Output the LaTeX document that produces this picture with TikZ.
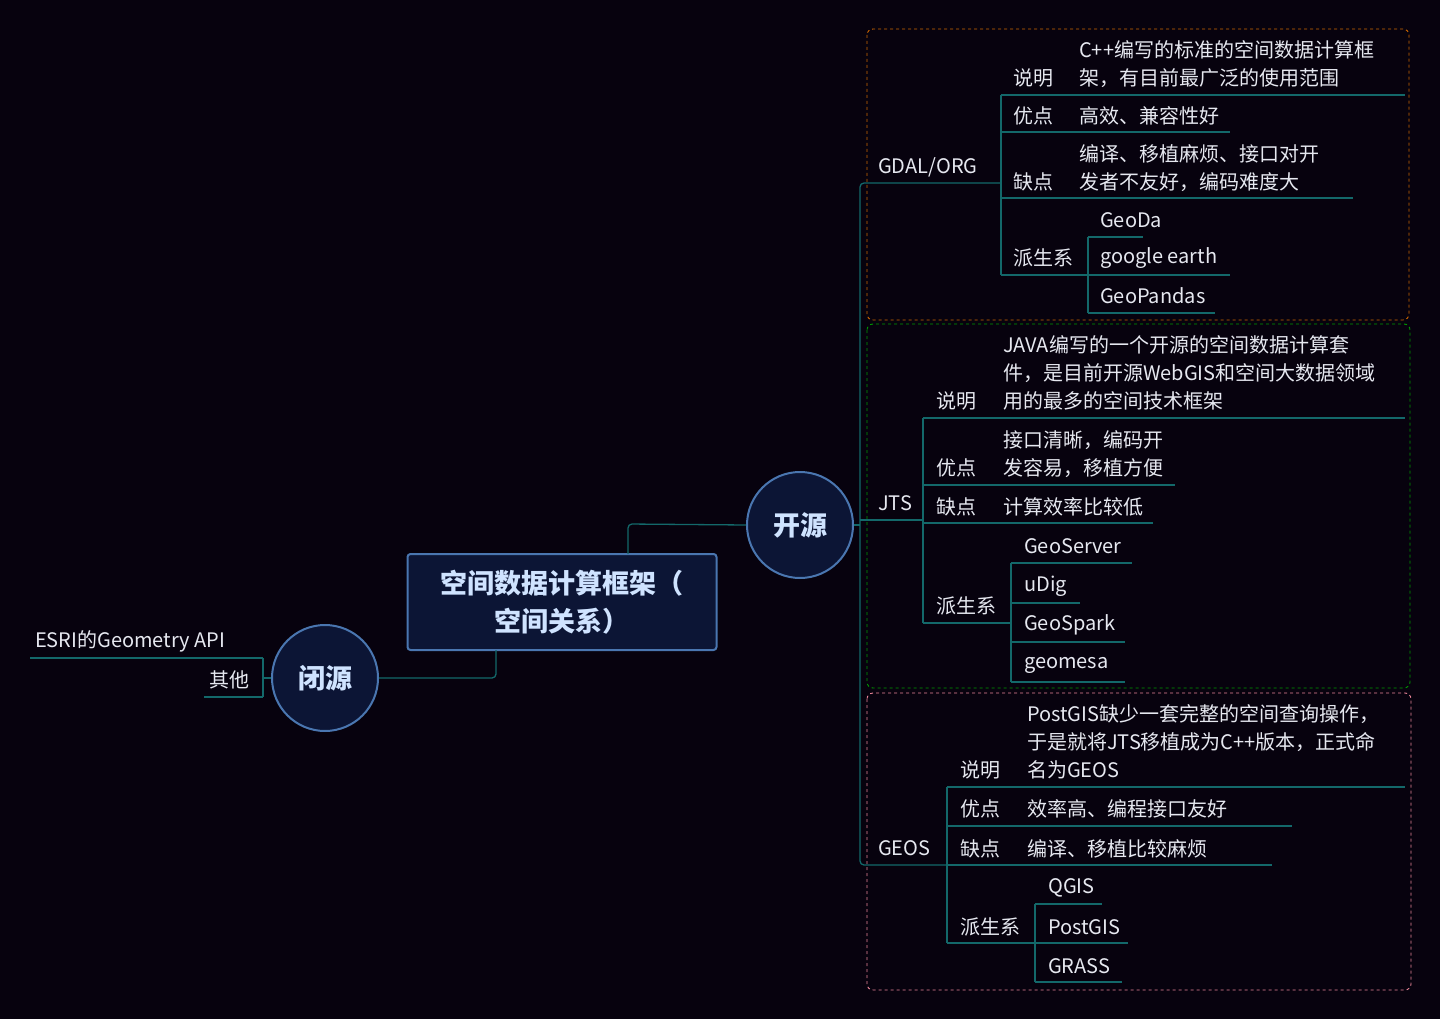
\documentclass[tikz,border=0pt]{standalone}
\usepackage{fontspec}
\setmainfont{Noto Sans CJK SC}
\definecolor{bg}{HTML}{07020E}
\definecolor{ln}{HTML}{13686A}
\definecolor{tx}{HTML}{E6E8F0}
\definecolor{nf}{HTML}{0C1535}
\definecolor{nb}{HTML}{4A76B0}
\definecolor{nt}{HTML}{CFE3FF}
\begin{document}
\begin{tikzpicture}[x=1pt,y=-1pt,
  t/.style={anchor=west,inner sep=0,text=tx,font=\fontsize{20}{24}\selectfont},
  lk/.style={draw=ln,line width=1.3pt,rounded corners=4pt},
  main/.style={draw=nb,fill=nf,line width=2pt,text=nt,font=\fontsize{27}{38}\selectfont\bfseries},
  grp/.style={dashed,line width=0.9pt,rounded corners=6pt}]
\fill[bg] (0,0) rectangle (1440,1019);
\useasboundingbox (0,0) rectangle (1440,1019);
% groups
\draw[grp,draw=orange!80!black] (867,29) rectangle (1409,320);
\draw[grp,draw=green!60!black] (867,324) rectangle (1410,688);
\draw[grp,draw=pink!70!purple] (867,693) rectangle (1411,990);
% root and main
\node[main,rounded corners=3pt,minimum width=309,minimum height=96,align=center] (root) at (562,602) {空间数据计算框架（\\空间关系）};
\node[main,circle,minimum size=106] (open) at (800,525) {开源};
\node[main,circle,minimum size=106] (closed) at (325,678) {闭源};
\draw[lk] (628,554) -- (628,524) -- (open.west);
\draw[lk] (496,650) -- (496,678) -- (closed.east);
% closed side
\coordinate (ct) at (263,678);
\draw[lk] (closed.west) -- (ct);
\draw[lk] (263,697) -- (263,658);
\draw[lk] (30,658) -- (263,658);
\draw[lk] (204,697) -- (263,697);
\node[t] (esri) at (35,641) {ESRI的Geometry API};
\node[t] (qt) at (209,680) {其他};
% open trunk
\draw[lk] (open.east) -- (860,525);
\draw[lk] (1000,183) -- (860,183) -- (860,865) -- (946,865);
\draw[lk] (860,520) -- (922,520);
\node[t] (gdal) at (878,167) {GDAL/ORG};
\node[t] (jts) at (878,503) {JTS};
\node[t] (geos) at (878,848) {GEOS};
% GDAL
\draw[lk] (1001,95) -- (1001,275);
\draw[lk] (1001,95) -- (1405,95);
\draw[lk] (1001,132) -- (1230,132);
\draw[lk] (1001,198) -- (1353,198);
\draw[lk] (1001,275) -- (1087,275);
\node[t] at (1013,78) {说明};
\node[t] at (1079,50) {C++编写的标准的空间数据计算框};
\node[t] at (1079,78) {架，有目前最广泛的使用范围};
\node[t] at (1013,116) {优点};
\node[t] at (1079,116) {高效、兼容性好};
\node[t] at (1013,182) {缺点};
\node[t] at (1079,154) {编译、移植麻烦、接口对开};
\node[t] at (1079,182) {发者不友好，编码难度大};
\node[t] at (1013,258) {派生系};
\draw[lk] (1088,237) -- (1088,313);
\draw[lk] (1088,237) -- (1143,237);
\draw[lk] (1088,275) -- (1230,275);
\draw[lk] (1088,313) -- (1215,313);
\node[t] at (1100,220) {GeoDa};
\node[t] at (1100,258) {google earth};
\node[t] at (1100,296) {GeoPandas};
% JTS
\draw[lk] (923,418) -- (923,623);
\draw[lk] (923,418) -- (1405,418);
\draw[lk] (923,485) -- (1175,485);
\draw[lk] (923,523) -- (1153,523);
\draw[lk] (923,623) -- (1010,623);
\node[t] at (936,401) {说明};
\node[t] at (1003,345) {JAVA编写的一个开源的空间数据计算套};
\node[t] at (1003,373) {件，是目前开源WebGIS和空间大数据领域};
\node[t] at (1003,401) {用的最多的空间技术框架};
\node[t] at (936,468) {优点};
\node[t] at (1003,440) {接口清晰，编码开};
\node[t] at (1003,468) {发容易，移植方便};
\node[t] at (936,507) {缺点};
\node[t] at (1003,507) {计算效率比较低};
\node[t] at (936,606) {派生系};
\draw[lk] (1011,563) -- (1011,682);
\draw[lk] (1011,563) -- (1132,563);
\draw[lk] (1011,603) -- (1080,603);
\draw[lk] (1011,642) -- (1125,642);
\draw[lk] (1011,682) -- (1125,682);
\node[t] at (1024,546) {GeoServer};
\node[t] at (1024,586) {uDig};
\node[t] at (1024,625) {GeoSpark};
\node[t] at (1024,665) {geomesa};
% GEOS
\draw[lk] (947,787) -- (947,943);
\draw[lk] (947,787) -- (1405,787);
\draw[lk] (947,826) -- (1292,826);
\draw[lk] (947,865) -- (1272,865);
\draw[lk] (947,943) -- (1034,943);
\node[t] at (960,770) {说明};
\node[t] at (1027,714) {PostGIS缺少一套完整的空间查询操作，};
\node[t] at (1027,742) {于是就将JTS移植成为C++版本，正式命};
\node[t] at (1027,770) {名为GEOS};
\node[t] at (960,809) {优点};
\node[t] at (1027,809) {效率高、编程接口友好};
\node[t] at (960,849) {缺点};
\node[t] at (1027,849) {编译、移植比较麻烦};
\node[t] at (960,927) {派生系};
\draw[lk] (1035,904) -- (1035,982);
\draw[lk] (1035,904) -- (1102,904);
\draw[lk] (1035,943) -- (1128,943);
\draw[lk] (1035,982) -- (1122,982);
\node[t] at (1048,888) {QGIS};
\node[t] at (1048,927) {PostGIS};
\node[t] at (1048,966) {GRASS};
\end{tikzpicture}
\end{document}
